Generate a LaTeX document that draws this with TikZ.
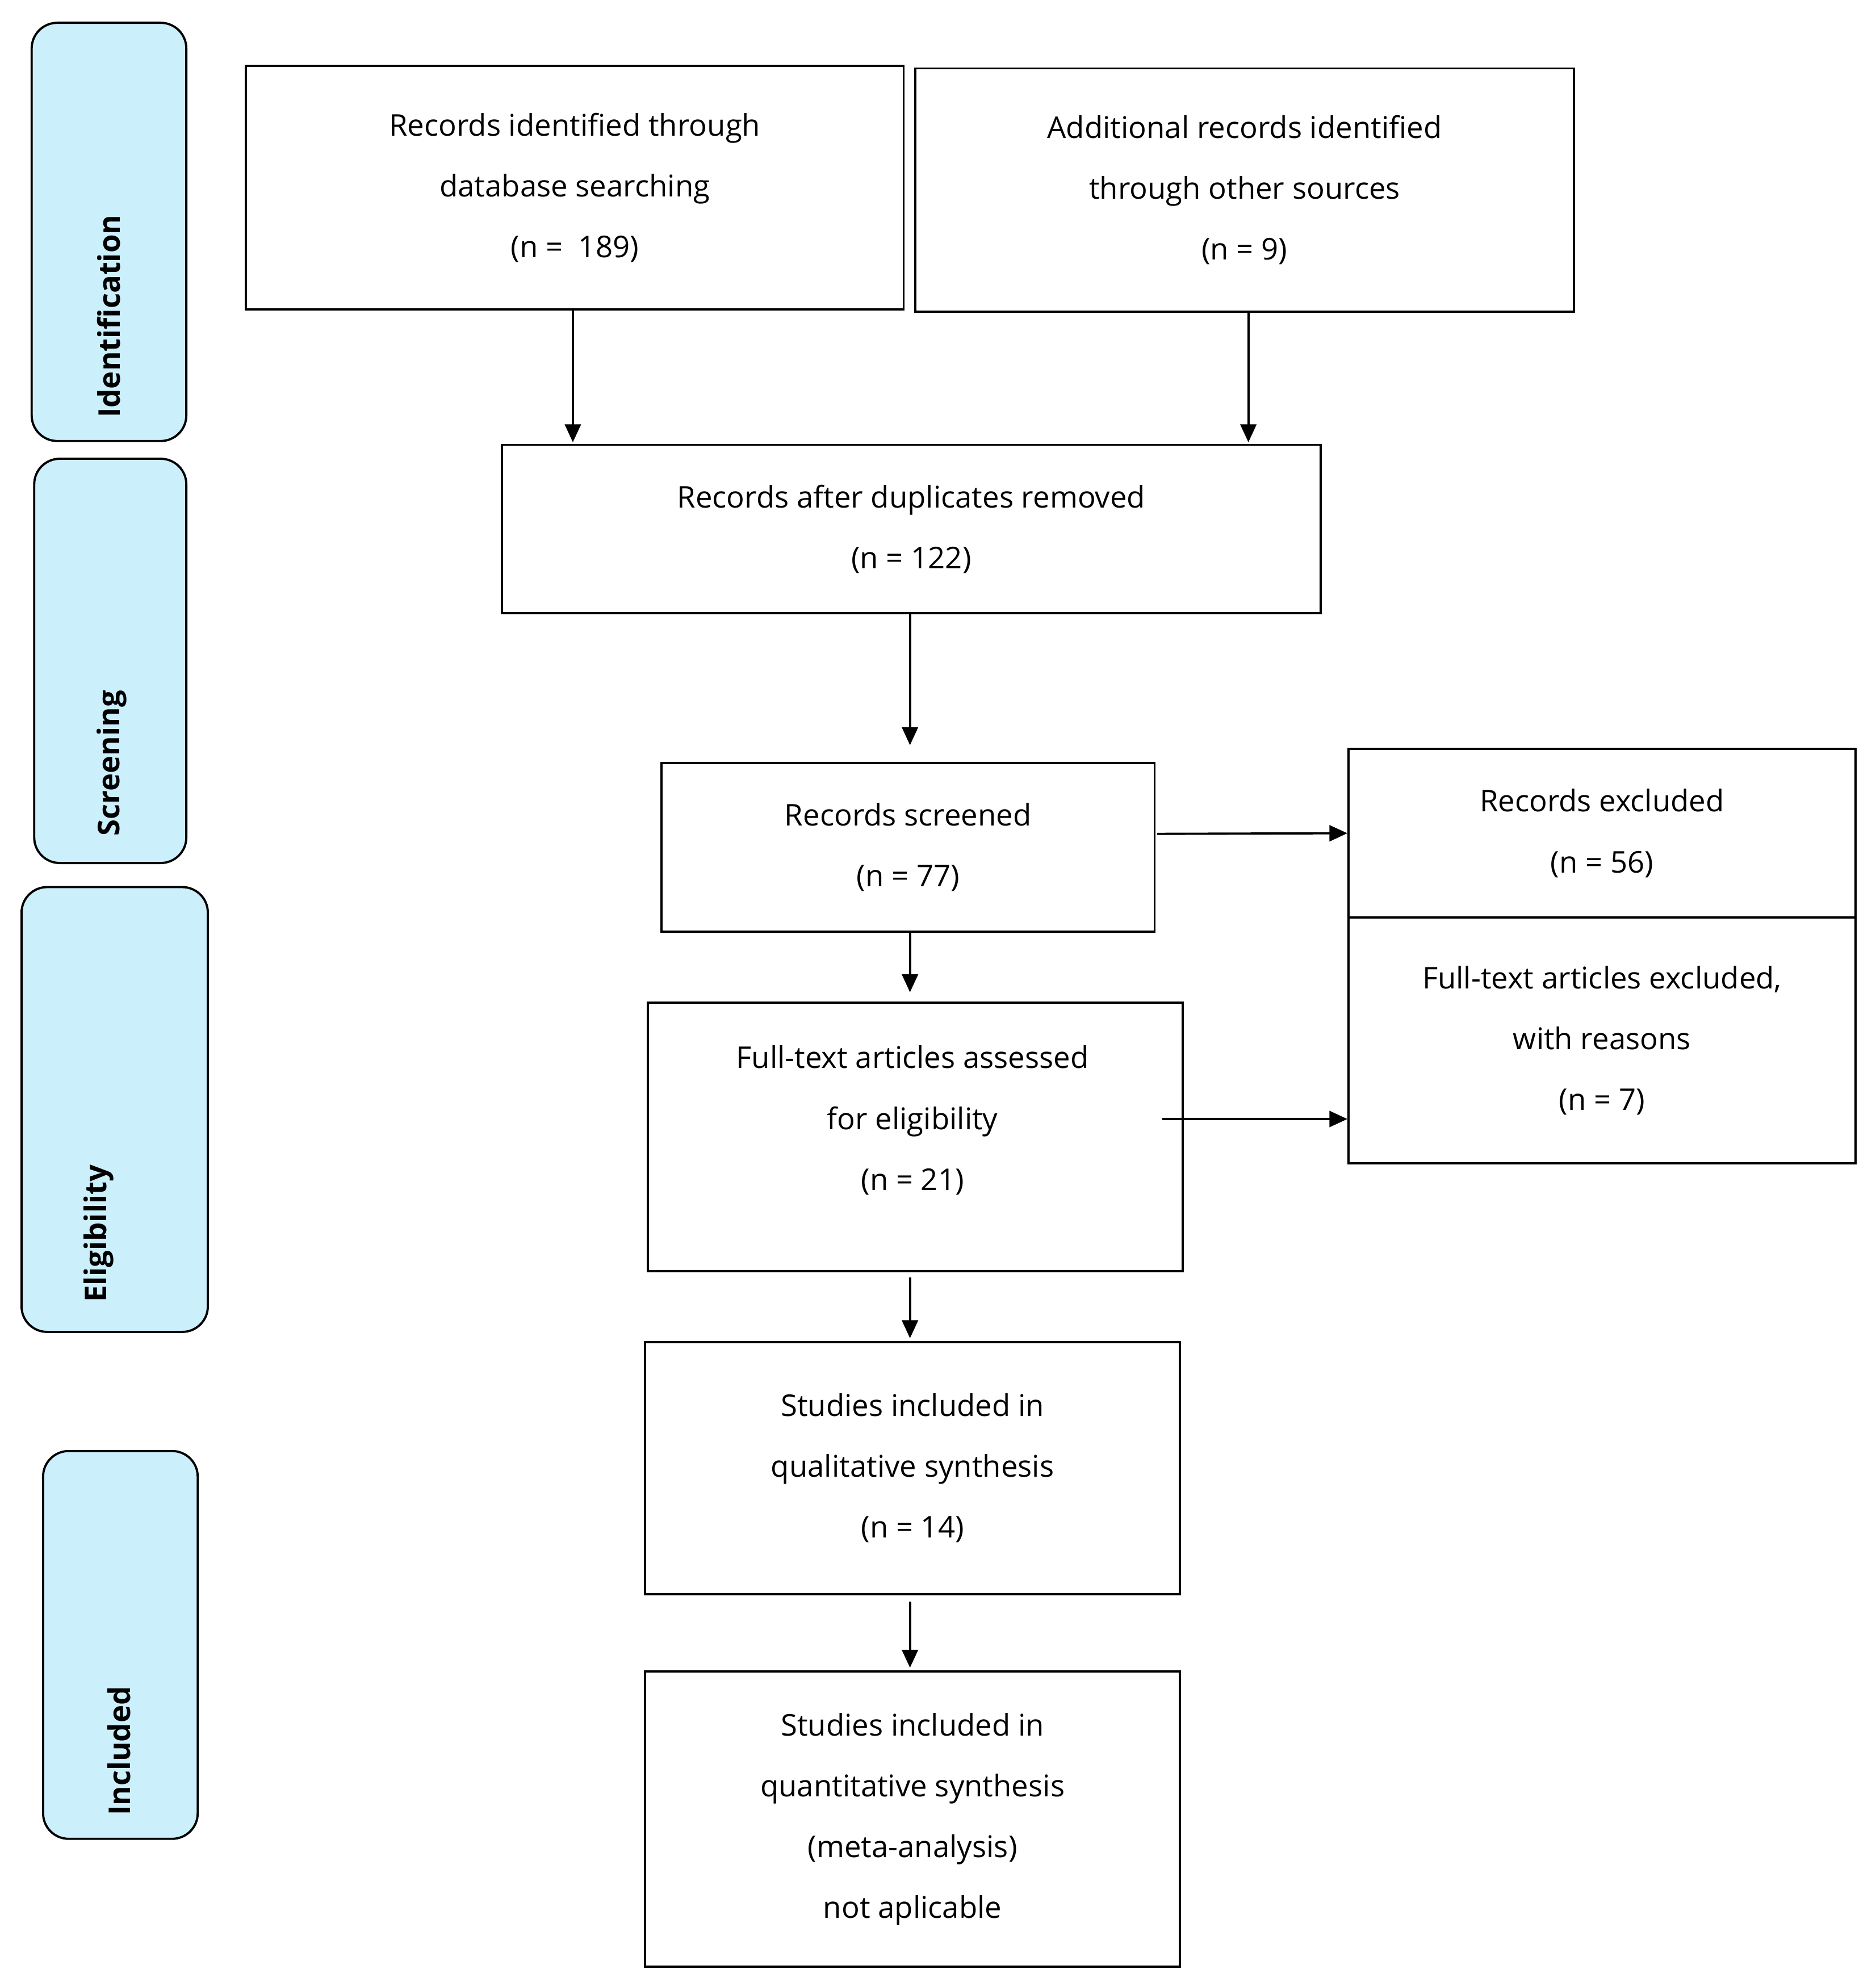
\documentclass[tikz,border=0pt]{standalone}
\usepackage{fontspec}
\setmainfont{Open Sans}
\usetikzlibrary{arrows.meta}
\begin{document}
\begin{tikzpicture}[x=0.02232cm,y=-0.02232cm,
  box/.style={draw,line width=1.1pt,align=center,inner sep=0pt,font=\fontsize{15}{30.5}\selectfont},
  side/.style={draw,line width=1.1pt,fill=cyan!20!white,rounded corners=0.45cm},
  sidet/.style={rotate=90,anchor=west,font=\fontsize{15}{18}\selectfont\bfseries,inner sep=0pt},
  arr/.style={line width=1.1pt,-{Triangle[length=9pt,width=8pt]}}]
\useasboundingbox (0,0) rectangle (1480,1564);
% side bands
\draw[side] (25,18) rectangle (147,348);
\node[sidet] (l1) at (86,330) {Identification};
\draw[side] (27,362) rectangle (147,681);
\node[sidet] (l2) at (88,660) {Screening};
\draw[side] (17,700) rectangle (164,1051);
\node[sidet] (l3) at (78,1028) {Eligibility};
\draw[side] (34,1145) rectangle (156,1451);
\node[sidet] (l4) at (94,1433) {Included};
% boxes
\node[box,minimum width=519*0.02232cm,minimum height=192*0.02232cm] (A) at (453.5,148) {Records identified through\\database searching\\(n =~~189)};
\node[box,minimum width=520*0.02232cm,minimum height=192*0.02232cm] (B) at (982,150) {Additional records identified\\through other sources\\(n = 9)};
\node[box,minimum width=646*0.02232cm,minimum height=133*0.02232cm] (C) at (719,417.5) {Records after duplicates removed\\(n = 122)};
\node[box,minimum width=389*0.02232cm,minimum height=133*0.02232cm] (D) at (716.5,668.5) {Records screened\\(n = 77)};
\node[box,minimum width=400*0.02232cm,minimum height=133*0.02232cm] (E) at (1264,657.5) {Records excluded\\(n = 56)};
\node[box,minimum width=400*0.02232cm,minimum height=194*0.02232cm] (F) at (1264,821) {Full-text articles excluded,\\with reasons\\(n = 7)};
\node[draw,line width=1.1pt,minimum width=422*0.02232cm,minimum height=212*0.02232cm,inner sep=0pt] (G) at (722,897) {};
\node[box,draw=none] (Gt) at (720,884) {Full-text articles assessed\\for eligibility\\(n = 21)};
\node[box,minimum width=422*0.02232cm,minimum height=199*0.02232cm] (H) at (720,1158.5) {Studies included in\\qualitative synthesis\\(n = 14)};
\node[box,minimum width=422*0.02232cm,minimum height=233*0.02232cm] (I) at (720,1435.5) {Studies included in\\quantitative synthesis\\(meta-analysis)\\not aplicable};
% arrows
\draw[arr] (452,244) -- (452,349);
\draw[arr] (985,246) -- (985,349);
\draw[arr] (C.south -| 718,0) -- (718,588);
\draw[arr] (D.south -| 718,0) -- (718,783);
\draw[arr] (913,658) -- (E.west);
\coordinate (g1) at (917,883);
\draw[arr] (g1) -- (g1 -| F.west);
\draw[arr] (718,1008) -- (718,1056);
\draw[arr] (718,1264) -- (718,1316);
\end{tikzpicture}
\end{document}
